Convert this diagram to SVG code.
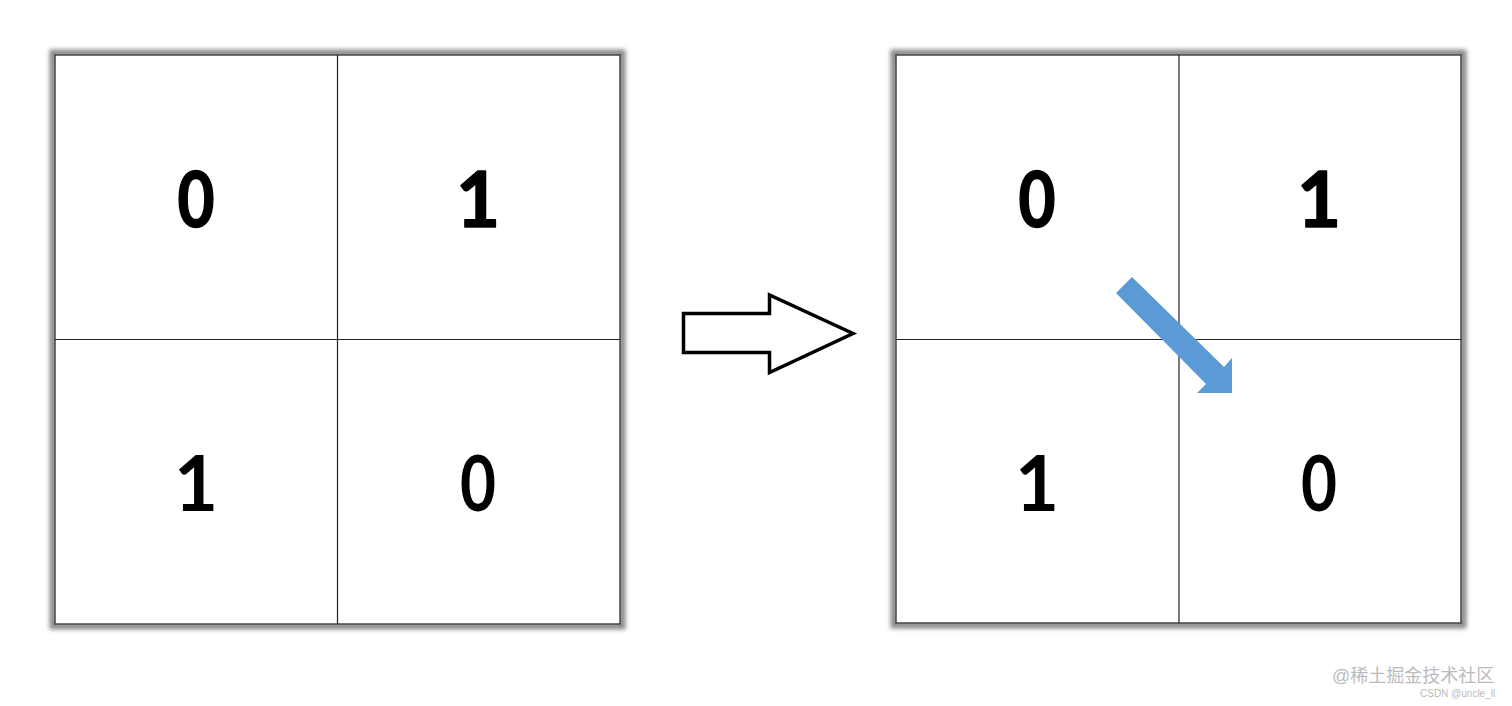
<svg xmlns="http://www.w3.org/2000/svg" width="1512" height="706" viewBox="0 0 1512 706">
<defs>
<style>
.frame{fill:#fff;stroke:#444;stroke-width:1.5}
.shadow{fill:none;stroke:#8a8a8a;stroke-width:7}
.div{stroke:#222;stroke-width:1.2}
.num{font-family:Lato,"Open Sans",sans-serif;font-size:76px;font-weight:700;text-anchor:middle;fill:#000}
.b{stroke:#000;stroke-width:1.6;stroke-linejoin:round}
.wm{font-family:"Liberation Sans","Noto Sans CJK SC",sans-serif;fill:#bbb}
</style>
<filter id="blur" x="-10%" y="-10%" width="120%" height="120%"><feGaussianBlur stdDeviation="2"/></filter>
</defs>
<g id="grid-left">
<rect class="shadow" x="53" y="53" width="569" height="573" filter="url(#blur)"/>
<rect class="frame" x="55" y="55" width="565" height="569"/>
<line class="div" x1="337.5" y1="55" x2="337.5" y2="624"/>
<line class="div" x1="55" y1="339.5" x2="620" y2="339.5"/>
<text class="num b" x="196" y="227" textLength="37" lengthAdjust="spacingAndGlyphs">0</text>
<text class="num b" x="478" y="227">1</text>
<text class="num" x="196" y="511">1</text>
<text class="num" x="478" y="511" textLength="36" lengthAdjust="spacingAndGlyphs">0</text>
</g>
<g id="grid-right">
<rect class="shadow" x="894" y="53" width="569" height="572" filter="url(#blur)"/>
<rect class="frame" x="896" y="55" width="565" height="568"/>
<line class="div" x1="1179" y1="55" x2="1179" y2="623"/>
<line class="div" x1="896" y1="339.5" x2="1461" y2="339.5"/>
<text class="num b" x="1037" y="227" textLength="37" lengthAdjust="spacingAndGlyphs">0</text>
<text class="num b" x="1319" y="227">1</text>
<text class="num" x="1037" y="511">1</text>
<text class="num" x="1319" y="511" textLength="36" lengthAdjust="spacingAndGlyphs">0</text>
</g>
<g id="connectors">
<polygon id="big-arrow" points="683.5,313.5 769.5,313.5 769.5,295 853,333.5 769.5,372.5 769.5,352.5 683.5,352.5" fill="#fff" stroke="#000" stroke-width="3.5" stroke-linejoin="miter"/>
<polygon id="blue-arrow" points="1132,277 1224,367 1232,358 1232,393 1197,393 1206,384 1116,293" fill="#5b9bd5"/>
</g>
<text class="wm" x="1332" y="682" font-size="18">@稀土掘金技术社区</text>
<text class="wm" x="1420" y="697" font-size="10" fill="#aaa">CSDN @uncle_ll</text>
</svg>
